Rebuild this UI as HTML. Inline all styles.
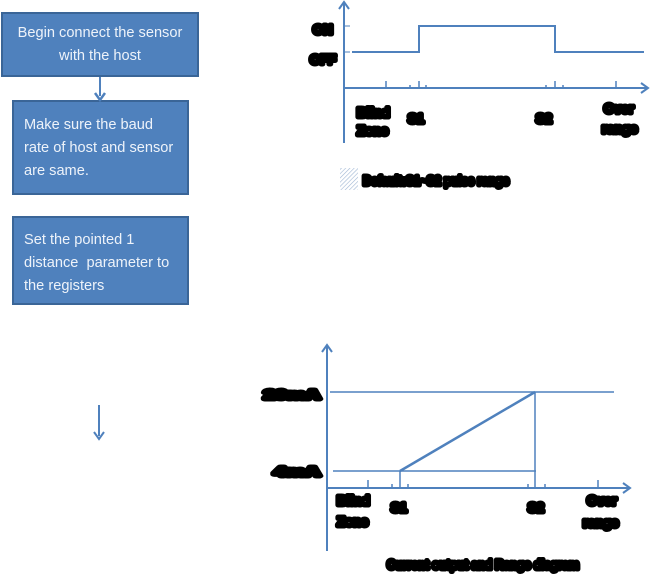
<!DOCTYPE html>
<html><head><meta charset="utf-8"><style>
html,body{margin:0;padding:0;background:#fff;width:650px;height:582px;overflow:hidden;font-family:"Liberation Sans",sans-serif}
.box{position:absolute;background:#4f81bd;border:2px solid #3a6597;box-sizing:border-box;color:#eef3fa;font-size:14.6px;line-height:23px}
svg{position:absolute;left:0;top:0}
.lb{font-family:"Liberation Sans",sans-serif;font-weight:bold;font-size:13px;fill:#000;stroke:#000;stroke-width:5;stroke-linejoin:round}
</style></head><body>
<div class="box" style="left:1px;top:12px;width:198px;height:65px;text-align:center;padding-top:8px">Begin connect the sensor<br>with the host</div>
<div class="box" style="left:12px;top:100px;width:177px;height:95px;padding:12px 0 0 10px">Make sure the baud<br>rate of host and sensor<br>are same.</div>
<div class="box" style="left:12px;top:216px;width:177px;height:89px;padding:11px 0 0 10px">Set the pointed 1<br>distance&nbsp; parameter to<br>the registers</div>
<svg width="650" height="582" viewBox="0 0 650 582">
<defs>
<pattern id="h" width="3" height="3" patternUnits="userSpaceOnUse" patternTransform="rotate(45)"><line x1="0" y1="0" x2="0" y2="3" stroke="#9fb6d3" stroke-width="1.2"/></pattern>
</defs>
<g stroke="#4f81bd" stroke-width="2" fill="none">
<line x1="100" y1="77" x2="100" y2="96"/>
<path d="M95 93 L100 100 L105 93" stroke-width="2.5"/>
<line x1="99" y1="405" x2="99" y2="436"/>
<path d="M94 432 L99 439 L104 432"/>
<line x1="344" y1="3" x2="344" y2="143"/>
<path d="M339 9 L344 2 L349 9"/>
<line x1="344" y1="88" x2="648" y2="88"/>
<path d="M641 83 L648 88 L641 93"/>
<polyline points="352,52 419,52 419,26 555,26 555,52 644,52"/>
<line x1="344" y1="26" x2="350" y2="26" stroke-width="1"/>
<line x1="344" y1="52" x2="350" y2="52" stroke-width="1"/>
<g stroke-width="1.5"><line x1="386" y1="81" x2="386" y2="88"/><line x1="419" y1="81" x2="419" y2="88"/><line x1="555" y1="81" x2="555" y2="88"/><line x1="616" y1="81" x2="616" y2="88"/>
<line x1="410" y1="85" x2="410" y2="88"/><line x1="426" y1="85" x2="426" y2="88"/><line x1="546" y1="85" x2="546" y2="88"/><line x1="563" y1="85" x2="563" y2="88"/></g>
<line x1="327" y1="346" x2="327" y2="551"/>
<path d="M322 352 L327 345 L332 352"/>
<line x1="327" y1="488" x2="630" y2="488"/>
<path d="M623 483 L630 488 L623 493"/>
<line x1="330" y1="392" x2="614" y2="392" stroke-width="1.5"/>
<line x1="333" y1="471" x2="536" y2="471" stroke-width="1.5"/>
<line x1="535" y1="392" x2="535" y2="488" stroke-width="1.5"/>
<line x1="400" y1="471" x2="400" y2="488" stroke-width="1.5"/>
<line x1="400" y1="471" x2="535" y2="392" stroke-width="2.5"/>
<g stroke-width="1.5"><line x1="368" y1="480" x2="368" y2="488"/><line x1="598" y1="480" x2="598" y2="488"/><line x1="392" y1="484" x2="392" y2="488"/><line x1="408" y1="484" x2="408" y2="488"/><line x1="528" y1="484" x2="528" y2="488"/><line x1="545" y1="484" x2="545" y2="488"/></g>
</g>
<rect x="340" y="168" width="18" height="22" fill="url(#h)"/>
<g class="lb">
<text x="313" y="34">ON</text>
<text x="310" y="64">OFF</text>
<text x="357" y="117">Blind</text><text x="357" y="135">Zone</text>
<text x="408" y="123">S1</text>
<text x="536" y="123">S2</text>
<text x="604" y="113">Over</text><text x="602" y="133">range</text>
<text x="363" y="185" style="font-size:13px" textLength="146" lengthAdjust="spacingAndGlyphs">Default:S1~S2 pulse range</text>
<text x="264" y="399" textLength="56" lengthAdjust="spacingAndGlyphs">20mA</text>
<text x="274" y="476" textLength="46" lengthAdjust="spacingAndGlyphs">4mA</text>
<text x="337" y="505">Blind</text><text x="337" y="526">Zone</text>
<text x="391" y="512">S1</text>
<text x="528" y="512">S2</text>
<text x="587" y="505">Over</text><text x="583" y="527">range</text>
<text x="387" y="569" style="font-size:13px" textLength="192" lengthAdjust="spacingAndGlyphs">Current output and Range diagram</text>
</g>
</svg>
</body></html>
